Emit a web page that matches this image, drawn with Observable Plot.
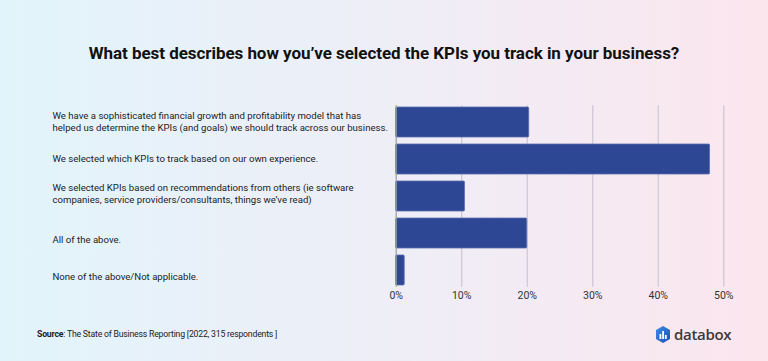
<!DOCTYPE html>
<html>
<head>
<meta charset="utf-8">
<script src="https://cdn.jsdelivr.net/npm/d3@7"></script>
<script src="https://cdn.jsdelivr.net/npm/@observablehq/plot@0.6"></script>
<style>
  html, body { margin: 0; padding: 0; }
  #wrap {
    position: relative; width: 768px; height: 361px; overflow: hidden;
    background: linear-gradient(90deg, #e2f4fb 0%, #eeeef7 50%, #fce6ee 100%);
    font-family: Roboto, "Noto Sans", sans-serif;
  }
  #title {
    position: absolute; left: 0; width: 768px; top: 43px; text-align: center;
    font-size: 17px; font-weight: 700; color: #111; letter-spacing: -0.05px;
  }
  #chart { position: absolute; left: 0; top: 0; }
  #source {
    position: absolute; left: 37px; top: 329px; font-size: 8.7px; color: #222;
    font-family: "Roboto", sans-serif; letter-spacing: -0.2px;
  }
  #logo { position: absolute; left: 656px; top: 324px; display: flex; align-items: center; }
  #logo span { font-size: 15px; color: #3a3a3a; margin-left: 4px; font-family: "Open Sans", Roboto, sans-serif; font-weight: 600; letter-spacing: -0.3px;}
</style>
</head>
<body>
<div id="wrap">
  <div id="title">What best describes how you’ve selected the KPIs you track in your business?</div>
  <div id="chart"></div>
  <div id="source"><b>Source</b>: The State of Business Reporting [2022, 315 respondents ]</div>
  <div id="logo">
    <svg width="14" height="17" viewBox="0 0 14 17">
      <defs><linearGradient id="lg" x1="0" y1="0" x2="1" y2="1"><stop offset="0" stop-color="#3d8ce8"/><stop offset="1" stop-color="#1e4fb0"/></linearGradient></defs>
      <path d="M7 0 L14 4 L14 13 L7 17 L0 13 L0 4 Z" fill="url(#lg)"/>
      <rect x="3.5" y="8" width="1.8" height="5" fill="#fff"/>
      <rect x="6.2" y="5" width="1.8" height="8" fill="#fff"/>
      <rect x="8.9" y="9" width="1.8" height="4" fill="#fff"/>
    </svg>
    <span>databox</span>
  </div>
</div>
<script>
const categories = [
  "We have a sophisticated financial growth and profitability model that has\nhelped us determine the KPIs (and goals) we should track across our business.",
  "We selected which KPIs to track based on our own experience.",
  "We selected KPIs based on recommendations from others (ie software\ncompanies, service providers/consultants, things we’ve read)",
  "All of the above.",
  "None of the above/Not applicable."
];
const values = [20.3, 47.9, 10.5, 20.0, 1.3];
const ticks = [0, 10, 20, 30, 40, 50];
const tickLabels = ["0%", "10%", "20%", "30%", "40%", "50%"];

const data = categories.map((c, i) => ({category: c, value: values[i], i}));
const tickData = ticks.map((t, i) => ({t, label: tickLabels[i]}));

const labelOpts = {y: "category", text: "category", frameAnchor: "left", textAnchor: "start", dx: -343.7, fontSize: 9.6, lineHeight: 1.25, fill: "#222"};

const chart = Plot.plot({
  width: 768,
  height: 361,
  marginLeft: 395.7,
  marginRight: 44.7,
  marginTop: 97.8,
  marginBottom: 67.2,
  style: {background: "transparent", fontFamily: "Roboto, sans-serif"},
  x: {domain: [0, 50], axis: null},
  y: {domain: categories, axis: null, padding: 0.2},
  marks: [
    Plot.ruleX(ticks.filter(t => t > 0), {stroke: "#cdc6d2", strokeWidth: 1.2, insetTop: 7.5, insetBottom: 7}),
    Plot.barX(data, {y: "category", x: "value", fill: "#2d4794", stroke: "#5a70b0", strokeWidth: 0.8, rx: 1}),
    Plot.ruleX([0], {stroke: "#9a9aa2", strokeWidth: 1.2, insetTop: 7.5, insetBottom: 7}),
    Plot.text(data, {...labelOpts, filter: d => d.i < 2, dy: -1}),
    Plot.text(data, {...labelOpts, filter: d => d.i === 2, dy: -3}),
    Plot.text(data, {...labelOpts, filter: d => d.i >= 3, dy: 6}),
    Plot.text(tickData, {x: "t", text: "label", frameAnchor: "bottom", dy: 1, lineAnchor: "middle", fontSize: 10.5, fill: "#333"})
  ]
});
document.getElementById("chart").appendChild(chart);
</script>
</body>
</html>
